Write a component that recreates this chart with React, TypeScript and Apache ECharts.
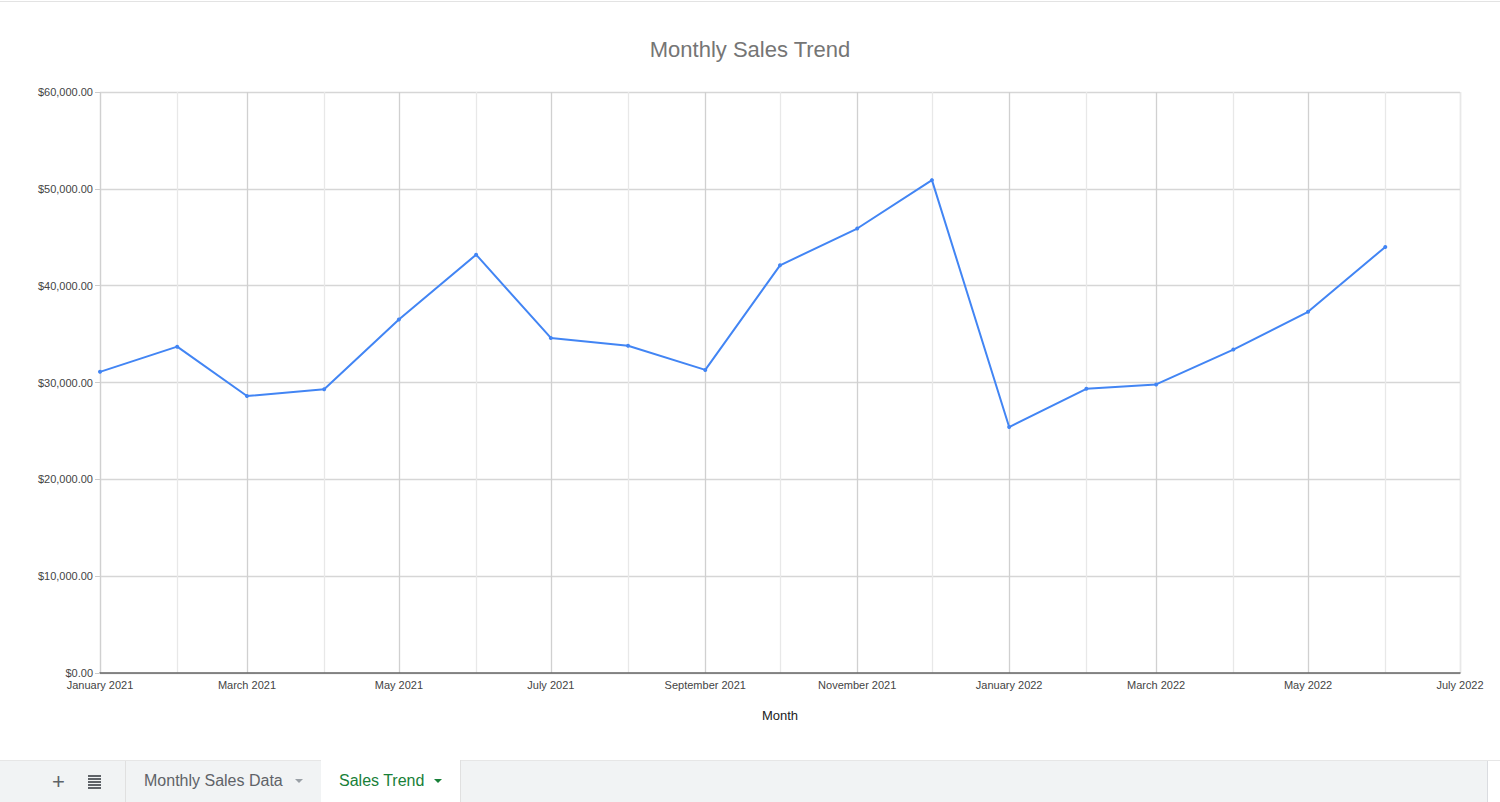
import React, { useEffect, useRef } from "react";
import * as echarts from "echarts";

const months: string[] = [
  "2021-01-01", "2021-02-01", "2021-03-01", "2021-04-01", "2021-05-01", "2021-06-01",
  "2021-07-01", "2021-08-01", "2021-09-01", "2021-10-01", "2021-11-01", "2021-12-01",
  "2022-01-01", "2022-02-01", "2022-03-01", "2022-04-01", "2022-05-01", "2022-06-01",
];
const sales: number[] = [
  31100, 33700, 28600, 29300, 36500, 43200,
  34600, 33800, 31300, 42100, 45900, 50900,
  25400, 29350, 29800, 33400, 37300, 44000,
];
const monthNames: string[] = [
  "January", "February", "March", "April", "May", "June",
  "July", "August", "September", "October", "November", "December",
];
const xMin = "2021-01-01";
const xMax = "2022-07-01";
const yTicks: number[] = [0, 10000, 20000, 30000, 40000, 50000, 60000];
const sheetTabs: string[] = ["Monthly Sales Data", "Sales Trend"];

const FONT = "Arial, 'Liberation Sans', sans-serif";

function toTs(s: string): number {
  const [y, m, d] = s.split("-").map(Number);
  return new Date(y, m - 1, d).getTime();
}

function Chart() {
  const ref = useRef<HTMLDivElement>(null);
  useEffect(() => {
    if (!ref.current) return;
    const chart = echarts.init(ref.current, undefined, { renderer: "svg" });
    const DAY = 24 * 3600 * 1000;
    chart.setOption({
      animation: false,
      backgroundColor: "#ffffff",
      title: {
        text: "Monthly Sales Trend",
        left: "center",
        top: 33,
        textStyle: { fontFamily: FONT, fontSize: 22, fontWeight: "normal", color: "#757575" },
      },
      grid: { left: 100, right: 40, top: 92, bottom: 87, containLabel: false },
      xAxis: {
        type: "time",
        min: toTs(xMin),
        max: toTs(xMax),
        splitNumber: 18,
        minInterval: 28 * DAY,
        maxInterval: 31 * DAY,
        name: "Month",
        nameLocation: "middle",
        nameGap: 36,
        nameTextStyle: { fontFamily: FONT, fontSize: 13, color: "#222222" },
        axisLine: { show: true, lineStyle: { color: "#666666", width: 1.5 } },
        axisTick: { show: false },
        axisLabel: {
          fontFamily: FONT,
          fontSize: 11,
          color: "#444444",
          margin: 6,
          showMinLabel: true,
          showMaxLabel: true,
          hideOverlap: false,
          interval: 0,
          formatter: (value: number) => {
            const d = new Date(value);
            if (d.getDate() !== 1) return "";
            const m = d.getMonth();
            if (m % 2 !== 0) return "";
            return monthNames[m] + " " + d.getFullYear();
          },
        },
        splitLine: {
          show: true,
          lineStyle: { color: ["#e8e8e8", "#d0d0d0"], width: 1.3 },
        },
      },
      yAxis: {
        type: "value",
        min: yTicks[0],
        max: yTicks[yTicks.length - 1],
        interval: 10000,
        axisLine: { show: false },
        axisTick: { show: true, length: 5, lineStyle: { color: "#cccccc" } },
        axisLabel: {
          fontFamily: FONT,
          fontSize: 11,
          color: "#444444",
          margin: 7,
          formatter: (v: number) =>
            "$" + v.toLocaleString("en-US", { minimumFractionDigits: 2, maximumFractionDigits: 2 }),
        },
        splitLine: { show: true, lineStyle: { color: "#d6d6d6", width: 1.3 } },
      },
      series: [
        {
          type: "line",
          data: months.map((m, i) => [toTs(m), sales[i]]),
          lineStyle: { color: "#4285f4", width: 2 },
          itemStyle: { color: "#4285f4" },
          symbol: "circle",
          symbolSize: 4,
          showSymbol: true,
        },
      ],
    });
    return () => chart.dispose();
  }, []);
  return <div ref={ref} style={{ width: 1500, height: 760 }} />;
}

export default function App() {
  return (
    <div
      style={{
        position: "fixed",
        left: 0,
        top: 0,
        width: 1500,
        height: 802,
        background: "#ffffff",
        overflow: "hidden",
        fontFamily: FONT,
      }}
    >
      <div style={{ position: "absolute", left: 0, top: 1, width: 1500, height: 1, background: "#e3e3e3", zIndex: 2 }} />
      <Chart />
      <div
        style={{
          position: "absolute",
          left: 0,
          top: 760,
          width: 1500,
          height: 42,
          background: "#f1f3f4",
          borderTop: "1px solid #e6e6e6",
          boxSizing: "border-box",
        }}
      >
        <div style={{ position: "absolute", left: 52, top: 9, fontSize: 22, color: "#5f6368", lineHeight: "24px" }}>+</div>
        <div style={{ position: "absolute", left: 88, top: 14, width: 13, height: 13 }}>
          {[0, 1, 2, 3, 4].map((i) => (
            <div key={i} style={{ position: "absolute", left: 0, top: i * 3, width: 13, height: 2, background: "#5f6368" }} />
          ))}
        </div>
        <div
          style={{
            position: "absolute",
            left: 125,
            top: 0,
            width: 195,
            height: 42,
            borderLeft: "1px solid #e0e0e0",
            boxSizing: "border-box",
          }}
        >
          <span style={{ position: "absolute", left: 18, top: 11, fontSize: 16, color: "#5f6368" }}>{sheetTabs[0]}</span>
          <span
            style={{
              position: "absolute",
              left: 169,
              top: 18,
              width: 0,
              height: 0,
              borderLeft: "4px solid transparent",
              borderRight: "4px solid transparent",
              borderTop: "4px solid #9aa0a6",
            }}
          />
        </div>
        <div
          style={{
            position: "absolute",
            left: 321,
            top: -1,
            width: 140,
            height: 43,
            background: "#ffffff",
            borderRight: "1px solid #e0e0e0",
            boxSizing: "border-box",
          }}
        >
          <span style={{ position: "absolute", left: 18, top: 12, fontSize: 16, color: "#188038" }}>{sheetTabs[1]}</span>
          <span
            style={{
              position: "absolute",
              left: 113,
              top: 19,
              width: 0,
              height: 0,
              borderLeft: "4px solid transparent",
              borderRight: "4px solid transparent",
              borderTop: "4px solid #188038",
            }}
          />
        </div>
        <div style={{ position: "absolute", left: 1487, top: 0, width: 13, height: 42, background: "#ffffff", borderLeft: "1px solid #dadce0" }} />
      </div>
    </div>
  );
}
